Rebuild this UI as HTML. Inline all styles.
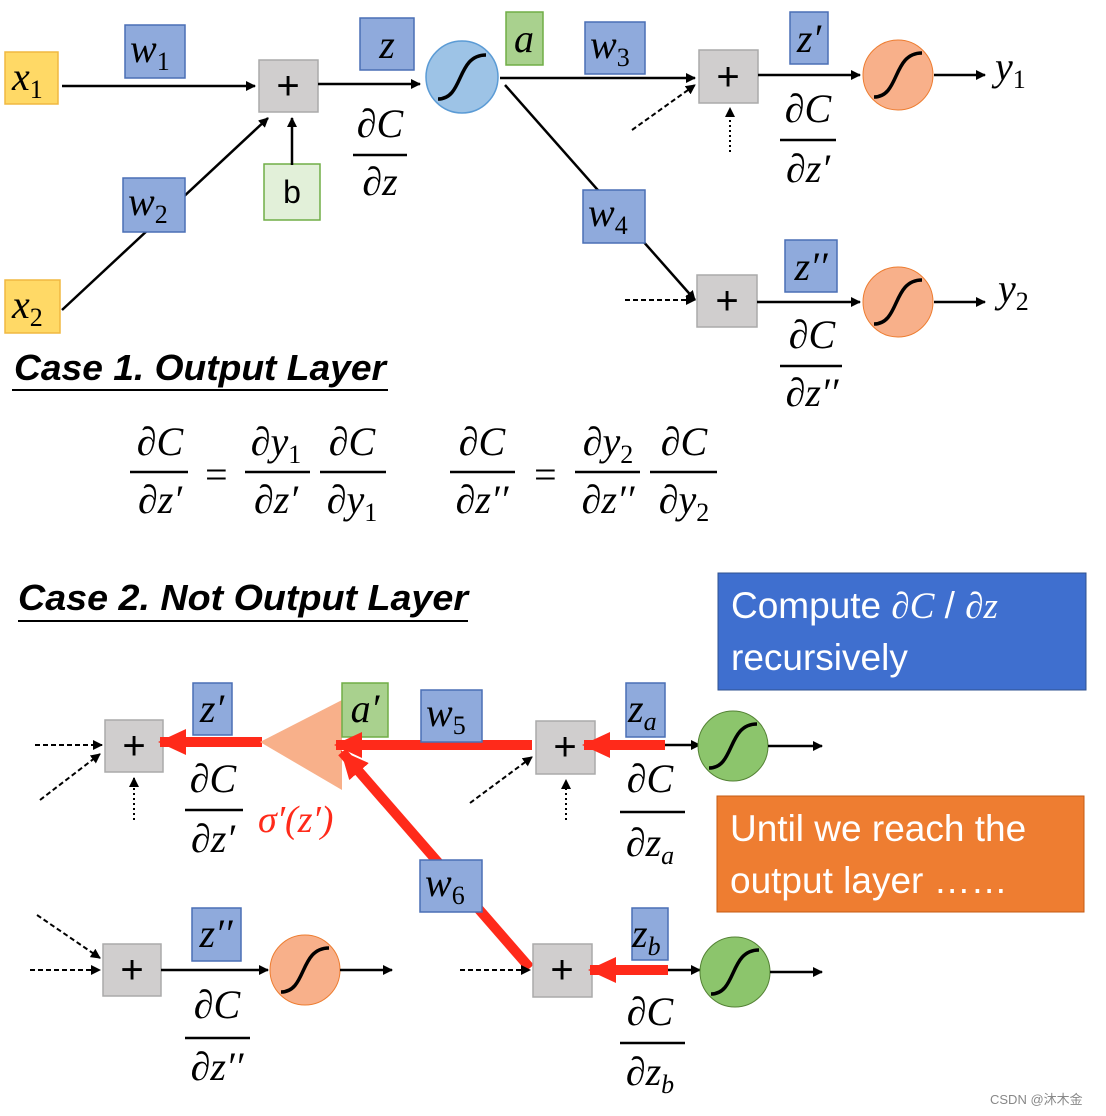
<!DOCTYPE html>
<html><head><meta charset="utf-8"><style>
html,body{margin:0;padding:0;background:#fff;}
svg{display:block;}
.m{font-family:"Liberation Serif",serif;font-style:italic;font-size:40px;fill:#000;}
.mc{font-family:"Liberation Serif",serif;font-style:italic;font-size:40px;text-anchor:middle;fill:#000;}
.b{fill:#8faadc;stroke:#4a6fb5;stroke-width:1.5;}
.g{fill:#d0cece;stroke:#aaa;stroke-width:1.5;}
.ln{stroke:#000;stroke-width:2.5;fill:none;}
.ds{stroke:#000;stroke-width:2;fill:none;stroke-dasharray:5,3;}
.dt{stroke:#000;stroke-width:2;fill:none;stroke-dasharray:2,3;}
.rd{stroke:#ff2a1a;stroke-width:10;fill:none;}
.h{font-family:"Liberation Sans",sans-serif;font-weight:bold;font-style:italic;font-size:36px;}
.w{font-family:"Liberation Sans",sans-serif;font-size:37px;fill:#fff;}
.sg{stroke:#000;stroke-width:3.5;fill:none;}
</style></head><body>
<svg width="1106" height="1116" viewBox="0 0 1106 1116" xmlns="http://www.w3.org/2000/svg">
<defs>
<marker id="a" markerWidth="10" markerHeight="10" refX="9" refY="5" orient="auto" markerUnits="userSpaceOnUse"><path d="M0,0 L10,5 L0,10 z" fill="#000"/></marker>
<marker id="r" markerWidth="30" markerHeight="30" refX="26" refY="15" orient="auto" markerUnits="userSpaceOnUse"><path d="M0,2 L28,15 L0,28 z" fill="#ff2a1a"/></marker>
</defs>

<!-- TOP -->
<rect x="5" y="52" width="53" height="52" fill="#ffd966" stroke="#f0b840" stroke-width="1.5"/>
<text x="12" y="90" class="m">x<tspan font-size="26" dy="8" font-style="normal">1</tspan></text>
<line x1="62" y1="86" x2="255" y2="86" class="ln" marker-end="url(#a)"/>
<rect x="125" y="25" width="60" height="53" class="b"/>
<text x="130" y="62" class="m">w<tspan font-size="26" dy="8" font-style="normal">1</tspan></text>
<rect x="259" y="60" width="59" height="52" class="g"/>
<text x="288" y="99" text-anchor="middle" font-family="Liberation Sans" font-size="40">+</text>
<rect x="5" y="280" width="55" height="53" fill="#ffd966" stroke="#f0b840" stroke-width="1.5"/>
<text x="12" y="318" class="m">x<tspan font-size="26" dy="8" font-style="normal">2</tspan></text>
<line x1="62" y1="310" x2="268" y2="118" class="ln" marker-end="url(#a)"/>
<rect x="123" y="178" width="62" height="54" class="b"/>
<text x="128" y="215" class="m">w<tspan font-size="26" dy="8" font-style="normal">2</tspan></text>
<rect x="264" y="164" width="56" height="56" fill="#e2f0d9" stroke="#70ad47" stroke-width="1.5"/>
<text x="292" y="203" text-anchor="middle" font-family="Liberation Sans" font-size="32">b</text>
<line x1="292" y1="165" x2="292" y2="118" class="ln" marker-end="url(#a)"/>
<rect x="360" y="18" width="54" height="52" class="b"/>
<text x="387" y="58" class="mc">z</text>
<line x1="318" y1="84" x2="420" y2="84" class="ln" marker-end="url(#a)"/>
<text x="380" y="137" class="mc">∂C</text><line x1="353" y1="155" x2="407" y2="155" stroke="#000" stroke-width="2.5"/><text x="380" y="195" class="mc">∂z</text>
<circle cx="462" cy="77" r="36" fill="#9dc3e6" stroke="#5b9bd5" stroke-width="1.5"/>
<path d="M438,99 C464,99 456,55 486,55" class="sg"/>
<rect x="506" y="12" width="37" height="53" fill="#a9d18e" stroke="#70ad47" stroke-width="1.5"/>
<text x="524" y="52" class="mc">a</text>
<line x1="500" y1="78" x2="695" y2="78" class="ln" marker-end="url(#a)"/>
<rect x="585" y="22" width="60" height="52" class="b"/>
<text x="590" y="58" class="m">w<tspan font-size="26" dy="8" font-style="normal">3</tspan></text>
<line x1="505" y1="85" x2="695" y2="300" class="ln" marker-end="url(#a)"/>
<rect x="583" y="190" width="62" height="53" class="b"/>
<text x="588" y="226" class="m">w<tspan font-size="26" dy="8" font-style="normal">4</tspan></text>
<rect x="699" y="50" width="59" height="53" class="g"/>
<text x="728" y="90" text-anchor="middle" font-family="Liberation Sans" font-size="40">+</text>
<line x1="632" y1="130" x2="695" y2="85" class="ds" marker-end="url(#a)"/>
<line x1="730" y1="152" x2="730" y2="108" class="dt" marker-end="url(#a)"/>
<rect x="790" y="12" width="38" height="52" class="b"/>
<text x="809" y="52" class="mc">z′</text>
<line x1="758" y1="75" x2="860" y2="75" class="ln" marker-end="url(#a)"/>
<circle cx="898" cy="75" r="35" fill="#f8b08a" stroke="#ed7d31" stroke-width="1"/>
<path d="M874,97 C900,97 892,53 922,53" class="sg"/>
<line x1="934" y1="75" x2="985" y2="75" class="ln" marker-end="url(#a)"/>
<text x="995" y="80" class="m">y<tspan font-size="26" dy="8" font-style="normal">1</tspan></text>
<text x="808" y="122" class="mc">∂C</text><line x1="780" y1="140" x2="836" y2="140" stroke="#000" stroke-width="2.5"/><text x="808" y="182" class="mc">∂z′</text>
<rect x="697" y="275" width="60" height="52" class="g"/>
<text x="727" y="314" text-anchor="middle" font-family="Liberation Sans" font-size="40">+</text>
<line x1="625" y1="300" x2="695" y2="300" class="ds" marker-end="url(#a)"/>
<rect x="785" y="240" width="52" height="52" class="b"/>
<text x="811" y="280" class="mc">z′′</text>
<line x1="757" y1="302" x2="860" y2="302" class="ln" marker-end="url(#a)"/>
<circle cx="898" cy="302" r="35" fill="#f8b08a" stroke="#ed7d31" stroke-width="1"/>
<path d="M874,324 C900,324 892,280 922,280" class="sg"/>
<line x1="934" y1="302" x2="985" y2="302" class="ln" marker-end="url(#a)"/>
<text x="998" y="302" class="m">y<tspan font-size="26" dy="8" font-style="normal">2</tspan></text>
<text x="812" y="348" class="mc">∂C</text><line x1="780" y1="366" x2="842" y2="366" stroke="#000" stroke-width="2.5"/><text x="812" y="406" class="mc">∂z′′</text>

<!-- Case 1 -->
<text x="14" y="380" class="h" textLength="372" lengthAdjust="spacingAndGlyphs">Case 1. Output Layer</text>
<line x1="12" y1="390" x2="388" y2="390" stroke="#000" stroke-width="2"/>
<text x="160" y="455" class="mc">∂C</text><line x1="130" y1="472" x2="188" y2="472" stroke="#000" stroke-width="2.5"/><text x="160" y="513" class="mc">∂z′</text>
<text x="216" y="488" class="mc" font-style="normal">=</text>
<text x="276" y="455" class="mc">∂y<tspan font-size="26" dy="8" font-style="normal">1</tspan></text><line x1="245" y1="472" x2="310" y2="472" stroke="#000" stroke-width="2.5"/><text x="276" y="513" class="mc">∂z′</text>
<text x="352" y="455" class="mc">∂C</text><line x1="320" y1="472" x2="386" y2="472" stroke="#000" stroke-width="2.5"/><text x="352" y="513" class="mc">∂y<tspan font-size="26" dy="8" font-style="normal">1</tspan></text>
<text x="482" y="455" class="mc">∂C</text><line x1="450" y1="472" x2="515" y2="472" stroke="#000" stroke-width="2.5"/><text x="482" y="513" class="mc">∂z′′</text>
<text x="545" y="488" class="mc" font-style="normal">=</text>
<text x="608" y="455" class="mc">∂y<tspan font-size="26" dy="8" font-style="normal">2</tspan></text><line x1="575" y1="472" x2="640" y2="472" stroke="#000" stroke-width="2.5"/><text x="608" y="513" class="mc">∂z′′</text>
<text x="684" y="455" class="mc">∂C</text><line x1="650" y1="472" x2="717" y2="472" stroke="#000" stroke-width="2.5"/><text x="684" y="513" class="mc">∂y<tspan font-size="26" dy="8" font-style="normal">2</tspan></text>

<!-- Case 2 -->
<text x="18" y="610" class="h" textLength="450" lengthAdjust="spacingAndGlyphs">Case 2. Not Output Layer</text>
<line x1="18" y1="621" x2="468" y2="621" stroke="#000" stroke-width="2"/>
<rect x="718" y="573" width="368" height="117" fill="#3f6fcf" stroke="#2f528f" stroke-width="1"/>
<text x="731" y="618" class="w">Compute <tspan font-family="Liberation Serif" font-style="italic">∂C</tspan> / <tspan font-family="Liberation Serif" font-style="italic">∂z</tspan></text>
<text x="731" y="670" class="w">recursively</text>
<rect x="717" y="796" width="367" height="116" fill="#ee7d31" stroke="#c55a11" stroke-width="1"/>
<text x="730" y="841" class="w">Until we reach the</text>
<text x="730" y="893" class="w">output layer ……</text>

<rect x="105" y="720" width="58" height="52" class="g"/>
<text x="134" y="759" text-anchor="middle" font-family="Liberation Sans" font-size="40">+</text>
<line x1="35" y1="745" x2="102" y2="745" class="ds" marker-end="url(#a)"/>
<line x1="40" y1="800" x2="100" y2="754" class="ds" marker-end="url(#a)"/>
<line x1="134" y1="820" x2="134" y2="778" class="dt" marker-end="url(#a)"/>
<line x1="262" y1="742" x2="160" y2="742" class="rd" marker-end="url(#r)"/>
<rect x="193" y="683" width="39" height="52" class="b"/>
<text x="212" y="722" class="mc">z′</text>
<text x="213" y="792" class="mc">∂C</text><line x1="185" y1="810" x2="243" y2="810" stroke="#000" stroke-width="2.5"/><text x="213" y="852" class="mc">∂z′</text>
<path d="M260,742 L342,700 L342,790 Z" fill="#f8b08a"/>
<rect x="342" y="683" width="46" height="54" fill="#a9d18e" stroke="#70ad47" stroke-width="1.5"/>
<text x="365" y="722" class="mc">a′</text>
<text x="258" y="832" font-family="Liberation Serif" font-size="38" fill="#ff2a1a" font-style="italic">σ′(z′)</text>
<line x1="532" y1="745" x2="336" y2="745" class="rd" marker-end="url(#r)"/>
<line x1="530" y1="968" x2="342" y2="752" class="rd" marker-end="url(#r)"/>
<rect x="421" y="690" width="61" height="52" class="b"/>
<text x="426" y="726" class="m">w<tspan font-size="26" dy="8" font-style="normal">5</tspan></text>
<rect x="420" y="860" width="62" height="52" class="b"/>
<text x="425" y="896" class="m">w<tspan font-size="26" dy="8" font-style="normal">6</tspan></text>
<rect x="536" y="721" width="59" height="53" class="g"/>
<text x="565" y="760" text-anchor="middle" font-family="Liberation Sans" font-size="40">+</text>
<line x1="470" y1="803" x2="532" y2="757" class="ds" marker-end="url(#a)"/>
<line x1="566" y1="820" x2="566" y2="780" class="dt" marker-end="url(#a)"/>
<line x1="665" y1="745" x2="584" y2="745" class="rd" marker-end="url(#r)"/>
<rect x="626" y="683" width="39" height="54" class="b"/>
<text x="628" y="722" class="m">z<tspan font-size="26" dy="8">a</tspan></text>
<line x1="665" y1="745" x2="700" y2="745" class="ln" marker-end="url(#a)"/>
<circle cx="733" cy="746" r="35" fill="#8cc56c" stroke="#548235" stroke-width="1"/>
<path d="M709,768 C735,768 727,724 757,724" class="sg"/>
<line x1="768" y1="746" x2="822" y2="746" class="ln" marker-end="url(#a)"/>
<text x="650" y="792" class="mc">∂C</text><line x1="620" y1="812" x2="685" y2="812" stroke="#000" stroke-width="2.5"/><text x="650" y="856" class="mc">∂z<tspan font-size="26" dy="8">a</tspan></text>

<rect x="533" y="944" width="59" height="53" class="g"/>
<text x="562" y="983" text-anchor="middle" font-family="Liberation Sans" font-size="40">+</text>
<line x1="460" y1="970" x2="530" y2="970" class="ds" marker-end="url(#a)"/>
<line x1="668" y1="970" x2="590" y2="970" class="rd" marker-end="url(#r)"/>
<rect x="632" y="908" width="36" height="52" class="b"/>
<text x="632" y="947" class="m">z<tspan font-size="26" dy="8">b</tspan></text>
<line x1="668" y1="970" x2="700" y2="970" class="ln" marker-end="url(#a)"/>
<circle cx="735" cy="972" r="35" fill="#8cc56c" stroke="#548235" stroke-width="1"/>
<path d="M711,994 C737,994 729,950 759,950" class="sg"/>
<line x1="770" y1="972" x2="822" y2="972" class="ln" marker-end="url(#a)"/>
<text x="650" y="1025" class="mc">∂C</text><line x1="620" y1="1043" x2="685" y2="1043" stroke="#000" stroke-width="2.5"/><text x="650" y="1085" class="mc">∂z<tspan font-size="26" dy="8">b</tspan></text>

<rect x="103" y="944" width="58" height="52" class="g"/>
<text x="132" y="983" text-anchor="middle" font-family="Liberation Sans" font-size="40">+</text>
<line x1="30" y1="970" x2="100" y2="970" class="ds" marker-end="url(#a)"/>
<line x1="37" y1="915" x2="100" y2="958" class="ds" marker-end="url(#a)"/>
<rect x="192" y="908" width="49" height="53" class="b"/>
<text x="216" y="947" class="mc">z′′</text>
<line x1="161" y1="970" x2="268" y2="970" class="ln" marker-end="url(#a)"/>
<circle cx="305" cy="970" r="35" fill="#f8b08a" stroke="#ed7d31" stroke-width="1"/>
<path d="M281,992 C307,992 299,948 329,948" class="sg"/>
<line x1="340" y1="970" x2="392" y2="970" class="ln" marker-end="url(#a)"/>
<text x="217" y="1018" class="mc">∂C</text><line x1="185" y1="1038" x2="250" y2="1038" stroke="#000" stroke-width="2.5"/><text x="217" y="1080" class="mc">∂z′′</text>

<text x="990" y="1104" font-family="Liberation Sans, Noto Sans CJK SC, sans-serif" font-size="13" fill="#888">CSDN @沐木金</text>
</svg>
</body></html>
